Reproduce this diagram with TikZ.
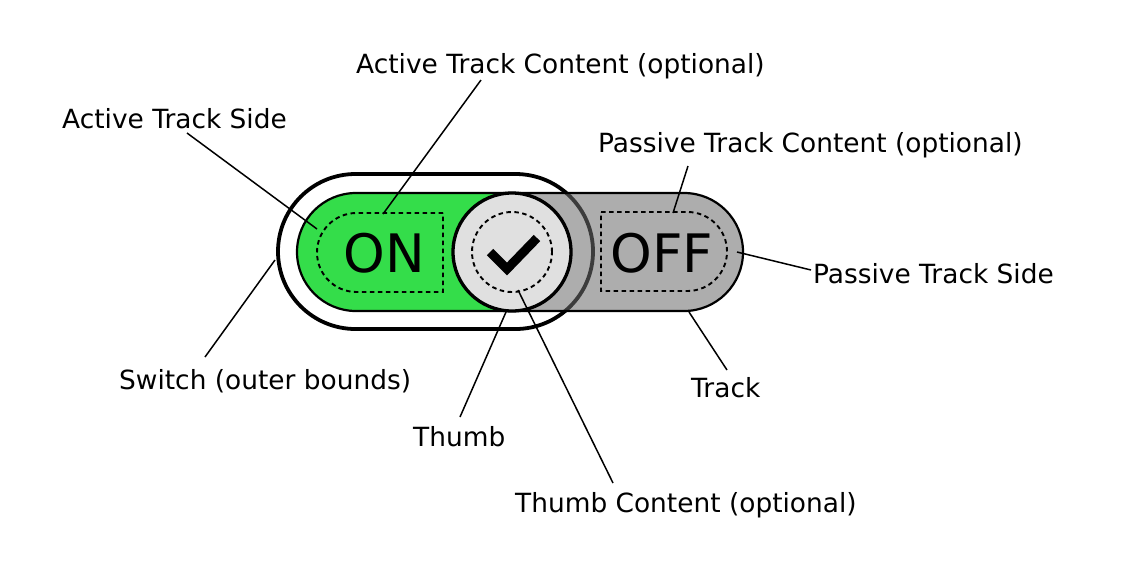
\documentclass[tikz,border=0pt]{standalone}
\usepackage{fontspec}
\setmainfont{DejaVu Sans}
\definecolor{ongreen}{RGB}{52,221,74}
\definecolor{trackgrey}{RGB}{173,173,173}
\definecolor{thumbgrey}{RGB}{224,224,224}
\definecolor{arcgrey}{RGB}{60,60,60}
\begin{document}
\begin{tikzpicture}[x=1pt,y=-1pt,
  lbl/.style={anchor=base west,inner sep=0pt,font=\fontsize{26.4}{30}\selectfont},
  big/.style={inner sep=0pt,font=\fontsize{53}{60}\selectfont},
  leader/.style={line width=1.5pt,black},
  dashline/.style={line width=1.9pt,dash pattern=on 4.5pt off 3.5pt}]
\useasboundingbox (0,0) rectangle (1124,566);
% outer bounds
\draw[line width=3.8pt,rounded corners=77.5] (278,174) rectangle (593,329);
% track
\fill[trackgrey,rounded corners=59] (297,193) rectangle (743,311);
\begin{scope}
  \clip[rounded corners=59] (297,193) rectangle (743,311);
  \fill[ongreen] (280,180) rectangle (504,320);
  \draw[arcgrey,line width=3.8pt,rounded corners=77.5] (278,174) rectangle (593,329);
\end{scope}
\draw[line width=2.2pt,rounded corners=59] (297,193) rectangle (743,311);
% content areas
\draw[dashline] (443,213) -- (356.5,213) arc[start angle=-90,end angle=-270,radius=39.5] -- (443,292) -- cycle;
\draw[dashline] (601,212) -- (687.5,212) arc[start angle=-90,end angle=90,radius=39.5] -- (601,291) -- cycle;
\node[big] (on) at (384,253) {ON};
\node[big] (off) at (662,253) {OFF};
% thumb
\node[circle,draw,line width=3.3pt,fill=thumbgrey,minimum size=118pt,inner sep=0pt] (thumb) at (512,252) {};
\node[circle,draw,dashline,minimum size=80pt,inner sep=0pt] (thumbc) at (512,252) {};
\draw[line width=9pt,line join=miter,line cap=butt] (490,252) -- (507,269) -- (537,238);
% labels
\node[lbl] (lats) at (62,128) {Active Track Side};
\node[lbl] (latc) at (356,73) {Active Track Content (optional)};
\node[lbl] (lptc) at (598,152) {Passive Track Content (optional)};
\node[lbl] (lpts) at (813,283) {Passive Track Side};
\node[lbl] (ltr) at (691,397) {Track};
\node[lbl] (lsw) at (119,389) {Switch (outer bounds)};
\node[lbl] (lth) at (413,446) {Thumb};
\node[lbl] (ltc) at (515,512) {Thumb Content (optional)};
% leader end points
\coordinate (a1) at (187,133); \coordinate (a2) at (317,229);
\coordinate (b1) at (481,80);  \coordinate (b2) at (383,214);
\coordinate (c1) at (688,166); \coordinate (c2) at (673,213);
\coordinate (d1) at (737,252); \coordinate (d2) at (811,270);
\coordinate (e1) at (689,312); \coordinate (e2) at (727,370);
\coordinate (f1) at (275,260); \coordinate (f2) at (205,357);
\coordinate (g1) at (506,312); \coordinate (g2) at (460,417);
\coordinate (h1) at (518,290); \coordinate (h2) at (613,483);
\draw[leader] (a1) -- (a2);
\draw[leader] (b1) -- (b2);
\draw[leader] (c1) -- (c2);
\draw[leader] (d1) -- (d2);
\draw[leader] (e1) -- (e2);
\draw[leader] (f1) -- (f2);
\draw[leader] (g1) -- (g2);
\draw[leader] (h1) -- (h2);
\end{tikzpicture}
\end{document}
